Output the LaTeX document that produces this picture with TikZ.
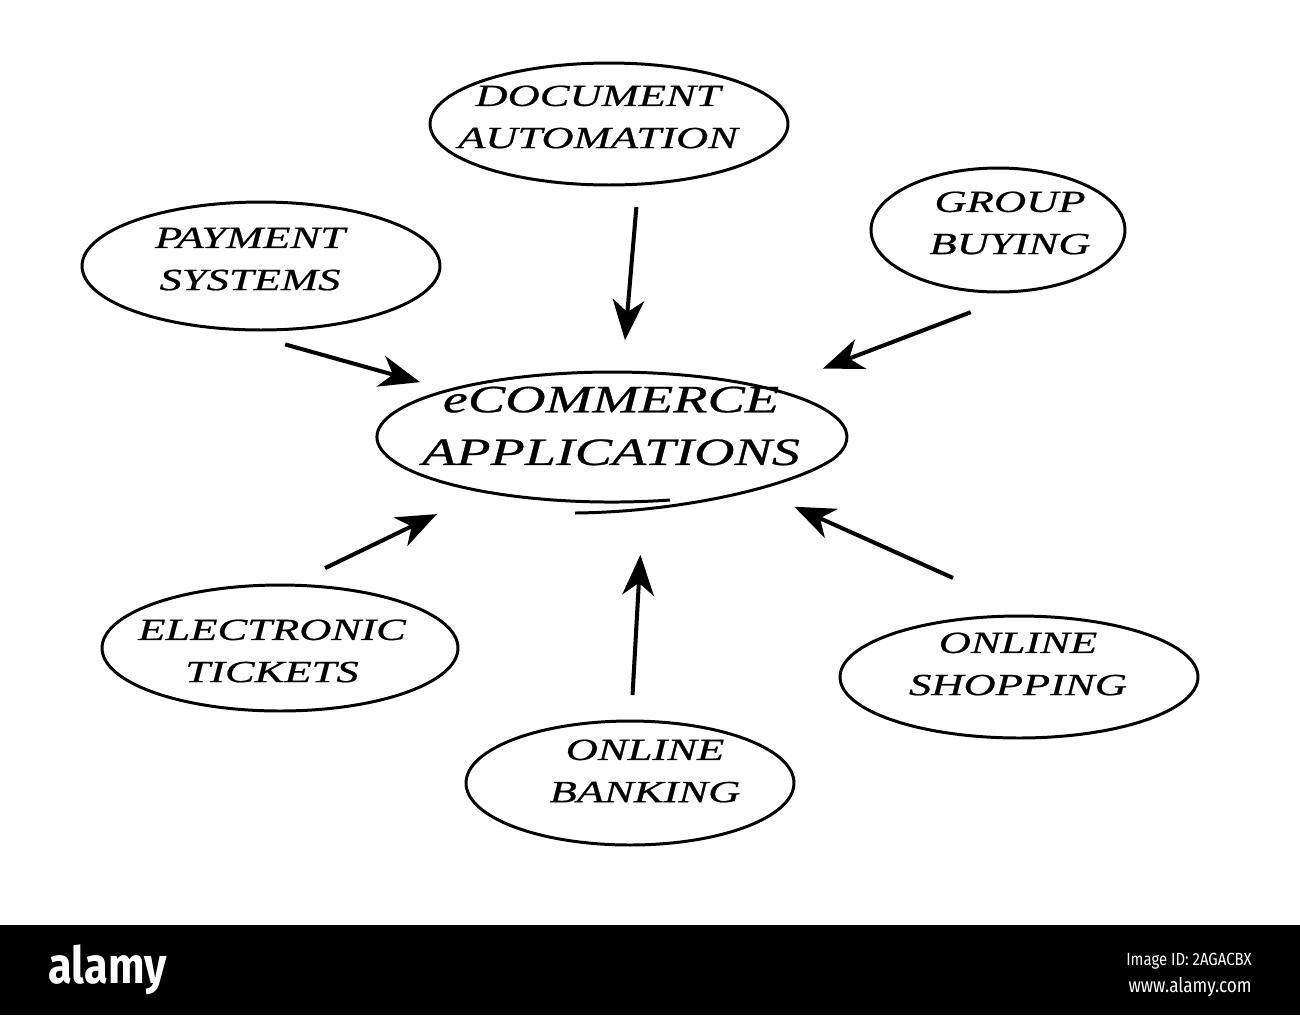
\documentclass[tikz,border=0pt]{standalone}
\usepackage{fontspec}
\usetikzlibrary{shapes.geometric}
\usetikzlibrary{arrows.meta}
\newfontfamily\handfont{Liberation Serif}[FakeStretch=1.45, FakeBold=0.7]
\newfontfamily\logofont{Fira Sans}[FakeStretch=0.85]

\begin{document}
\begin{tikzpicture}[x=0.02cm, y=-0.02cm,
blob/.style={draw, ellipse, line width=1.7pt, inner sep=0pt, outer sep=0pt},
txt/.style={font=\handfont\itshape\fontsize{17.5}{24}\selectfont, align=center, inner sep=0pt},
feed/.style={line width=2.3pt, -{Stealth[length=23pt, width=18pt, inset=7pt]}}]
\useasboundingbox (0,0) rectangle (1300,1015);

% bubbles
\node[blob, draw=none, minimum width=9.4cm, minimum height=2.6cm] (app) at (612,437) {};
\draw[line width=1.7pt] (670,500) arc[start angle=75.7, end angle=380, x radius=235, y radius=65]
  .. controls (790,487) and (680,512) .. (575,513);
\node[blob, minimum width=7.16cm, minimum height=2.44cm] (doc) at (609,124) {};
\node[blob, minimum width=5.08cm, minimum height=2.48cm] (group) at (998,230) {};
\node[blob, minimum width=7.16cm, minimum height=2.56cm] (pay) at (261,266) {};
\node[blob, minimum width=7.12cm, minimum height=2.52cm] (tick) at (280,648) {};
\node[blob, minimum width=6.56cm, minimum height=2.48cm] (bank) at (630,783) {};
\node[blob, minimum width=7.16cm, minimum height=2.44cm] (shop) at (1019,677) {};

% texts
\node[txt, font=\handfont\itshape\fontsize{22}{30}\selectfont] (appt) at (611,426) {eCOMMERCE\\APPLICATIONS};
\node[txt] (doct) at (598,117) {DOCUMENT\\AUTOMATION};
\node[txt] (groupt) at (1010,223) {GROUP\\BUYING};
\node[txt] (payt) at (250,259) {PAYMENT\\SYSTEMS};
\node[txt] (tickt) at (272,651) {ELECTRONIC\\TICKETS};
\node[txt] (bankt) at (645,771) {ONLINE\\BANKING};
\node[txt] (shopt) at (1018,664) {ONLINE\\SHOPPING};

% arrows
\draw[feed, shorten <=0.46cm, shorten >=0.64cm] (doc.-64.7) -- (app.81);
\draw[feed, shorten <=1.24cm, shorten >=1.14cm] (group.-63.5) -- (app.17.6);
\draw[feed, shorten <=1.14cm, shorten >=0.6cm] (pay.-116) -- (app.164.8);
\draw[feed, shorten <=0.78cm, shorten >=1.04cm] (tick.81.1) -- (app.-157);
\draw[feed, shorten <=0.52cm, shorten >=1.07cm] (bank.89.5) -- (app.-64.3);
\draw[feed, shorten <=1.88cm, shorten >=0.88cm] (shop.72.8) -- (app.-20.3);

% band
\fill[black] (0,925) rectangle (1300,1015);
\node[font=\logofont\bfseries\fontsize{29}{29}\selectfont, text=white, anchor=west, inner sep=0pt] (logo) at (48,970) {alamy};
\node[font=\logofont\fontsize{10}{12}\selectfont, text=white, anchor=east, inner sep=0pt] (imgid) at (1252,961) {Image ID: 2AGACBX};
\node[font=\logofont\fontsize{11.5}{12}\selectfont, text=white, anchor=east, inner sep=0pt] (site) at (1252,987) {www.alamy.com};
\end{tikzpicture}
\end{document}
